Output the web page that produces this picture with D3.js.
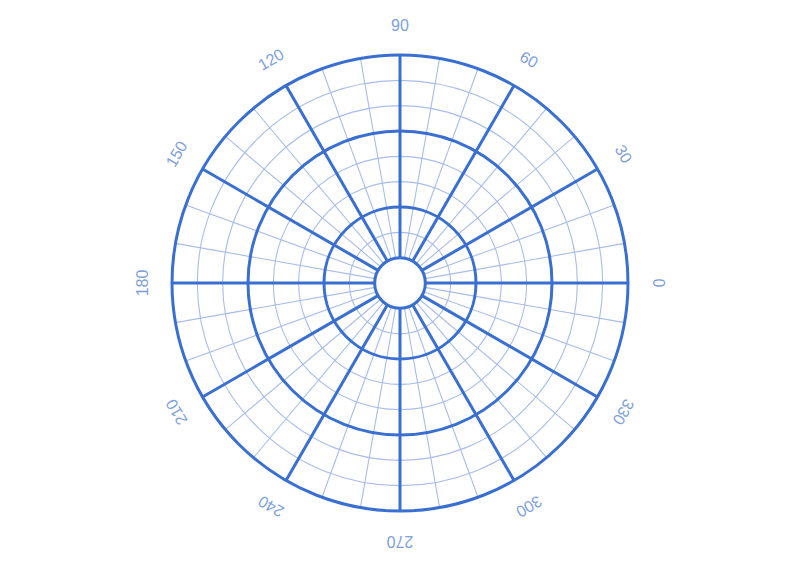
<!DOCTYPE html>
<html>
<head>
<meta charset="utf-8">
<script src="https://cdn.jsdelivr.net/npm/d3@7"></script>
<style>
  body { margin: 0; background: #fff; }
</style>
</head>
<body>
<script>
// SVG size
const w = 800;
const h = 566;
const cx = 400;
const cy = 283;

// Angular ticks (degrees)
const majorAngles = [0, 30, 60, 90, 120, 150, 180, 210, 240, 270, 300, 330];
const angleLabels = ["0", "30", "60", "90", "120", "150", "180", "210", "240", "270", "300", "330"];
const minorAngles = [10, 20, 40, 50, 70, 80, 100, 110, 130, 140, 160, 170,
                     190, 200, 220, 230, 250, 260, 280, 290, 310, 320, 340, 350];

// Radial levels
const minorRings = [2, 4, 5, 7, 8];
const majorRings = [1, 3, 6, 9];

// Scales
const rScale = d3.scaleLinear().domain([0, 9]).range([0, 228]);
const aScale = d3.scaleLinear().domain([0, 360]).range([0, 2 * Math.PI]);

const px = (a, r) => cx + r * Math.cos(aScale(a));
const py = (a, r) => cy - r * Math.sin(aScale(a));

const svg = d3.select("body")
    .append("svg")
    .attr("width", w)
    .attr("height", h);

const rIn = rScale(1);
const rOut = rScale(9);

// Minor spokes
svg.append("g")
    .selectAll("line")
    .data(minorAngles)
    .join("line")
    .attr("x1", d => px(d, rIn))
    .attr("y1", d => py(d, rIn))
    .attr("x2", d => px(d, rOut))
    .attr("y2", d => py(d, rOut))
    .attr("stroke", "#a8bdea")
    .attr("stroke-width", 1.1);

// Minor rings
svg.append("g")
    .selectAll("circle")
    .data(minorRings)
    .join("circle")
    .attr("cx", cx)
    .attr("cy", cy)
    .attr("r", d => rScale(d))
    .attr("fill", "none")
    .attr("stroke", "#a8bdea")
    .attr("stroke-width", 1.1);

// Major spokes
svg.append("g")
    .selectAll("line")
    .data(majorAngles)
    .join("line")
    .attr("x1", d => px(d, rIn))
    .attr("y1", d => py(d, rIn))
    .attr("x2", d => px(d, rOut))
    .attr("y2", d => py(d, rOut))
    .attr("stroke", "#3a6fd2")
    .attr("stroke-width", 3);

// Major rings
svg.append("g")
    .selectAll("circle")
    .data(majorRings)
    .join("circle")
    .attr("cx", cx)
    .attr("cy", cy)
    .attr("r", d => rScale(d))
    .attr("fill", d => d === 1 ? "#fff" : "none")
    .attr("stroke", "#3a6fd2")
    .attr("stroke-width", 3);

// Angle labels
const rLab = 258;
svg.append("g")
    .selectAll("text")
    .data(majorAngles)
    .join("text")
    .attr("transform", d => `translate(${px(d, rLab)},${py(d, rLab)}) rotate(${90 - d})`)
    .attr("text-anchor", "middle")
    .attr("dominant-baseline", "central")
    .attr("font-family", "Liberation Sans, Arial, sans-serif")
    .attr("font-size", 16)
    .attr("fill", "#7d9fdf")
    .text((d, i) => angleLabels[i]);
</script>
</body>
</html>
